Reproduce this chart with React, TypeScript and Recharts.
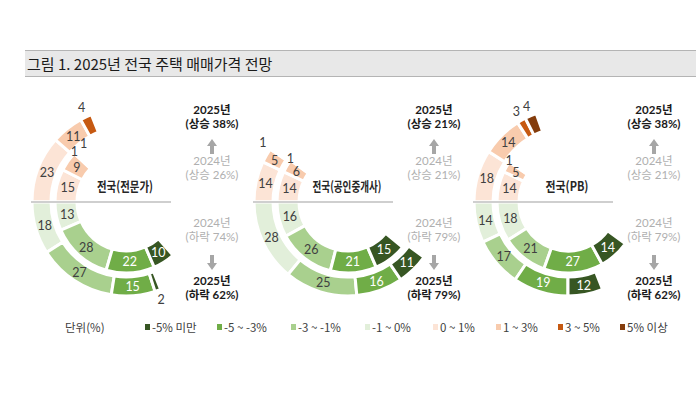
import React from "react";
import { PieChart, Pie, Cell } from "recharts";

// bins, from the lowest change to the highest
const bins = ["-5% 미만", "-5 ~ -3%", "-3 ~ -1%", "-1 ~ 0%", "0 ~ 1%", "1 ~ 3%", "3 ~ 5%", "5% 이상"];
const binColors = ["#375623", "#70AD47", "#A9D08E", "#E2EFDA", "#FCE4D6", "#F8CBAD", "#C65911", "#843C0C"];

// rise slices go 0~1, 1~3, 3~5, 5%+ ; fall slices go -1~0, -3~-1, -5~-3, <-5
const riseBins = [4, 5, 6, 7];
const fallBins = [3, 2, 1, 0];

const chartNames = ["전국(전문가)", "전국(공인중개사)", "전국(PB)"];

const rise2024 = [
  [15, 9, 1, 1],
  [14, 6, 1, 0],
  [14, 5, 1, 0],
];
const fall2024 = [
  [13, 28, 22, 10],
  [16, 26, 21, 15],
  [18, 21, 27, 14],
];
const rise2025 = [
  [23, 11, 4, 0],
  [14, 5, 1, 0],
  [18, 14, 3, 4],
];
const fall2025 = [
  [18, 27, 15, 2],
  [28, 25, 16, 11],
  [14, 17, 19, 12],
];

const upTotal2025 = [38, 21, 38];
const upTotal2024 = [26, 21, 21];
const downTotal2024 = [74, 79, 79];
const downTotal2025 = [62, 79, 62];

const W = 699;
const H = 393;
const CY = 202;
const centers = [126, 348, 568];
const nameWidths = [56, 69, 43];
const DEG = 1.8; // 100% = half circle
const RAD = Math.PI / 180;
const FONT = "'Noto Sans CJK KR', 'Noto Sans', sans-serif";
// latin first keeps the line box tight, hangul falls back to Noto CJK
const FONT_SM = "Lato, 'Noto Sans CJK KR', sans-serif";

const ringR = {
  inner: [49, 71],
  outer: [75, 94],
};

type Ring = "inner" | "outer";

const makeLabel = (data: any[], ring: Ring, cx: number, dir: number) => (p: any) => {
  const d = data[p.index];
  if (!d) return null;
  const [ri, ro] = ringR[ring];
  let r = (ri + ro) / 2;
  let ang = p.midAngle;
  if (d.value < 5) {
    if (ring === "outer") {
      r = ro + 10;
    } else {
      r = ro + 1;
      ang = ang + dir * (d.idx - 2) * 8;
    }
  }
  const x = cx + r * Math.cos(-ang * RAD);
  const y = CY + r * Math.sin(-ang * RAD);
  const white = d.value >= 5 && d.bin <= 1;
  return (
    <text
      key={`l-${ring}-${p.index}`}
      x={x}
      y={y}
      textAnchor="middle"
      dominantBaseline="central"
      fontSize={12.5}
      fontFamily={FONT_SM}
      fill={white ? "#ffffff" : "#404040"}
    >
      {d.value}
    </text>
  );
};

const ringPie = (id: string, values: number[], binIdx: number[], dir: number, cx: number, ring: Ring) => {
  const data = values
    .map((v, i) => ({ name: bins[binIdx[i]], value: v, bin: binIdx[i], idx: i }))
    .filter((d) => d.value > 0);
  const total = values.reduce((a, b) => a + b, 0);
  const [ri, ro] = ringR[ring];
  return (
    <Pie
      key={id}
      data={data}
      dataKey="value"
      nameKey="name"
      cx={cx}
      cy={CY}
      startAngle={180}
      endAngle={180 + dir * total * DEG}
      innerRadius={ri}
      outerRadius={ro}
      stroke="#ffffff"
      strokeWidth={3}
      label={makeLabel(data, ring, cx, dir)}
      labelLine={false}
      isAnimationActive={false}
    >
      {data.map((d) => (
        <Cell key={`${id}-${d.idx}`} fill={binColors[d.bin]} />
      ))}
    </Pie>
  );
};

const Arrow = ({ x, y, up }: { x: number; y: number; up: boolean }) => {
  // y is the tip of the arrow
  const s = up ? 1 : -1;
  const pts = [
    [x, y],
    [x + 5, y + s * 7],
    [x + 2, y + s * 7],
    [x + 2, y + s * 15],
    [x - 2, y + s * 15],
    [x - 2, y + s * 7],
    [x - 5, y + s * 7],
  ]
    .map((q) => q.join(","))
    .join(" ");
  return <polygon points={pts} fill="#a6a6a6" />;
};

const legendX = [145, 217, 291, 365, 433, 496, 558, 620];

const Note = ({ x, y, text, strong }: { x: number; y: number; text: string; strong: boolean }) => (
  <text
    x={x}
    y={y}
    textAnchor="middle"
    dominantBaseline="central"
    fontFamily={FONT_SM}
    fontSize={11.5}
    fontWeight={strong ? 700 : 400}
    fill={strong ? "#1a1a1a" : "#b0b0b0"}
  >
    {text}
  </text>
);

const App = () => {
  return (
    <div
      style={{
        position: "absolute",
        left: 0,
        top: 0,
        width: W,
        height: H,
        background: "#ffffff",
        fontFamily: FONT,
        overflow: "hidden",
      }}
    >
      <div
        style={{
          position: "absolute",
          left: 25,
          top: 50,
          width: 669,
          height: 25,
          background: "#e8e8e8",
          borderTop: "1.5px solid #b4b4b4",
          borderBottom: "1.5px solid #b4b4b4",
          fontSize: 15,
          lineHeight: "25px",
          color: "#1a1a1a",
          paddingLeft: 2,
          boxSizing: "content-box",
        }}
      >
        그림 1. 2025년 전국 주택 매매가격 전망
      </div>

      <div style={{ position: "absolute", left: 0, top: 0 }}>
        <PieChart width={W} height={H} margin={{ top: 0, right: 0, bottom: 0, left: 0 }}>
          {centers.map((cx, c) => [
            ringPie(`ir${c}`, rise2024[c], riseBins, -1, cx, "inner"),
            ringPie(`if${c}`, fall2024[c], fallBins, 1, cx, "inner"),
            ringPie(`or${c}`, rise2025[c], riseBins, -1, cx, "outer"),
            ringPie(`of${c}`, fall2025[c], fallBins, 1, cx, "outer"),
          ])}
        </PieChart>
      </div>

      <svg
        width={W}
        height={H}
        style={{ position: "absolute", left: 0, top: 0, pointerEvents: "none" }}
        fontFamily={FONT}
      >
        {centers.map((cx, c) => {
          const tx = cx + 86;
          return (
            <g key={`ann${c}`}>
              <line x1={cx - 95} x2={cx + 45} y1={CY} y2={CY} stroke="#bfbfbf" strokeWidth={1.5} />
              <text
                x={cx - 1}
                y={185}
                textAnchor="middle"
                dominantBaseline="central"
                fontSize={13}
                fontWeight={700}
                fill="#262626"
                textLength={nameWidths[c]}
                lengthAdjust="spacingAndGlyphs"
              >
                {chartNames[c]}
              </text>
              <Note x={tx} y={109} text="2025년" strong={true} />
              <Note x={tx} y={123} text={`(상승 ${upTotal2025[c]}%)`} strong={true} />
              <Arrow x={tx} y={139} up={true} />
              <Note x={tx} y={160} text="2024년" strong={false} />
              <Note x={tx} y={174} text={`(상승 ${upTotal2024[c]}%)`} strong={false} />
              <Note x={tx} y={222} text="2024년" strong={false} />
              <Note x={tx} y={236} text={`(하락 ${downTotal2024[c]}%)`} strong={false} />
              <Arrow x={tx} y={270} up={false} />
              <Note x={tx} y={280} text="2025년" strong={true} />
              <Note x={tx} y={294} text={`(하락 ${downTotal2025[c]}%)`} strong={true} />
            </g>
          );
        })}

        <text x={65} y={327} dominantBaseline="central" fontSize={11.5} fill="#404040">
          단위(%)
        </text>
        {bins.map((b, i) => (
          <g key={`lg${i}`}>
            <rect x={legendX[i]} y={324} width={5} height={6} fill={binColors[i]} />
            <text x={legendX[i] + 7} y={327} dominantBaseline="central" fontSize={11.5} fill="#404040">
              {b}
            </text>
          </g>
        ))}
      </svg>
    </div>
  );
};

export default App;
